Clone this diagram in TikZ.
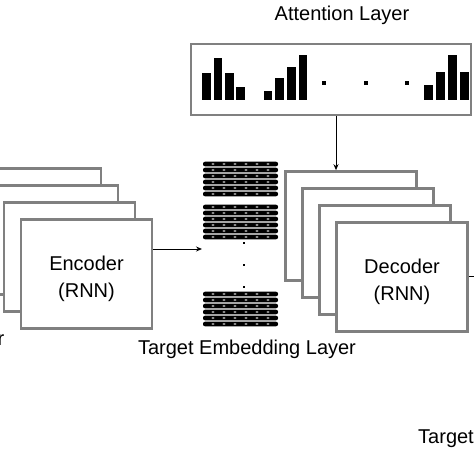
\documentclass[tikz,border=0pt]{standalone}
\usepackage{fontspec}
\setmainfont{Liberation Sans}
\usetikzlibrary{calc,arrows.meta}
\definecolor{boxgray}{RGB}{128,128,128}

\begin{document}
\begin{tikzpicture}[x=1pt, y=-1pt,
    % === STYLES ===
    rnn box/.style={draw=boxgray, line width=2.6pt, fill=white, inner sep=0pt,
        minimum width=131pt, minimum height=109pt, align=center, text height=51.5pt,
        font=\fontsize{20}{27}\selectfont},
    attention box/.style={draw=boxgray, line width=2.8pt, fill=white, inner sep=0pt,
        minimum width=280pt, minimum height=71pt},
    layer label/.style={inner sep=0pt, font=\fontsize{20}{24}\selectfont},
    link/.style={line width=1pt},
    arrow/.style={link, -{Stealth[length=6pt, width=5pt]}},
]
    % === FRAME ===
    \useasboundingbox (0,0) rectangle (474,474);
    \clip (0,0) rectangle (474,474);

    % === ENCODER STACK (back to front) ===
    \foreach \i/\d in {1/51, 2/34, 3/17}
        \node[rnn box] (enc\i) at (86.5-\d, 274-\d) {};
    \node[rnn box] (enc4) at (86.5,274) {Encoder\\(RNN)};

    % === DECODER STACK (back to front) ===
    \foreach \i/\d in {1/51, 2/34, 3/17}
        \node[rnn box] (dec\i) at (402-\d, 277-\d) {};
    \node[rnn box] (dec4) at (402,277) {Decoder\\(RNN)};

    % === ATTENTION LAYER ===
    \node[attention box] (att) at (331,79.5) {};
    % attention weights as bars
    \foreach \x/\t in {202/73, 213.5/58, 225/73, 236/87,
                       263.5/91, 275/78, 287/67, 298.5/55,
                       424/85, 436/72, 448/55, 460/72}
        \fill (\x,\t) rectangle (\x+8.5,100);
    \foreach \x in {324,366,407}
        \fill (\x-2,81) rectangle (\x+2,85);

    % === TARGET EMBEDDING LAYER ===
    \foreach \s in {164,207,294} {
        \foreach \k in {0,...,5} {
            \fill[rounded corners=2pt] (203,\s+6*\k-2.3) rectangle (278,\s+6*\k+2.3);
            \foreach \d in {213,224,...,268}
                \fill[gray!35] (\d,\s+6*\k) ellipse (1.7 and 0.8);
        }
    }
    \foreach \y in {243,265,287}
        \fill (243,\y-1.2) rectangle (245.4,\y+1.2);
    \coordinate (emb in) at (202,249);
    \coordinate (dec out) at (490,276);

    % === CONNECTORS ===
    \draw[arrow] ([yshift=25pt]enc4.east) -- (emb in);
    \draw[arrow] ([xshift=5pt]att.south) -- ([xshift=5pt]att.south |- dec1.north);
    \draw[link] ([yshift=1pt]dec4.east) -- (dec out);

    % === LABELS ===
    \node[layer label] (att label) at (342,15) {Attention Layer};
    \node[layer label] (emb label) at (247,349) {Target Embedding Layer};
    \node[layer label, anchor=west] (tgt label) at (418,439) {Target};
    \node[layer label, anchor=east] (src label) at (4.5,340) {r};

\end{tikzpicture}
\end{document}
